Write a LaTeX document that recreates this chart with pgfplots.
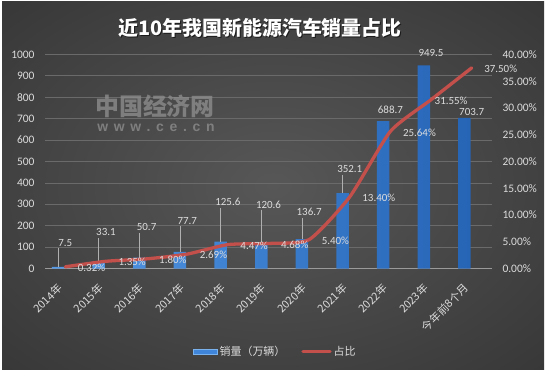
\documentclass[border=0pt]{standalone}
\usepackage{pgfplots}
\pgfplotsset{compat=1.18}
\usepackage{pgfplotstable}
\usepackage{fontspec}
\setmainfont{Carlito}
\newfontfamily\cjk{Noto Sans CJK SC}
\newfontfamily\wmfont{Liberation Sans}
\definecolor{bgin}{HTML}{575757}
\definecolor{bgout}{HTML}{2B2B2B}
\definecolor{gridc}{HTML}{6A6A6A}
\definecolor{zeroc}{HTML}{9A9A9A}
\definecolor{txt}{HTML}{DCDCDC}
\definecolor{barL}{HTML}{5298E6}
\definecolor{barM}{HTML}{3F86DA}
\definecolor{barR}{HTML}{2664B6}
\definecolor{barE}{HTML}{7AB2EE}
\definecolor{lineR}{HTML}{C4504C}
\definecolor{leader}{HTML}{B0B0B0}
\definecolor{wm}{HTML}{8C8C8C}
\pgfdeclareradialshading{bgshade}{\pgfpoint{0bp}{0bp}}{color(0bp)=(bgin); color(50bp)=(bgout); color(72bp)=(bgout)}

\pgfplotstableread{
x  y      err    yoff  p      px
0  7.5    86.4   20.5  0.32   11
1  33.1   109.8  25.5  1.35   11
2  50.7   114.5  26.5  1.80   11
3  77.7   119.2  27.5  2.69   11
4  125.6  156.5  35.5  4.47   11
5  120.6  151.9  34.5  4.68   11
6  136.7  100.5  23.5  5.40   11
7  352.1  86.4   20.5  13.40  11
8  688.7  0      7.5   25.64  11
9  949.5  0      8.5   31.55  2
10 703.7  0      2.5   37.50  11
}\data

\begin{document}
\begin{tikzpicture}
\begin{scope}[x=1bp,y=1bp]
\path[use as bounding box] (0,0) rectangle (550,374);
\fill[white] (0,0) rectangle (550,374);
\shade[shading=bgshade] (2,5) rectangle (544,372);
% title
\node[text=black, opacity=0.6, font=\cjk\bfseries\fontsize{20}{24}\selectfont] at (261,345.5) {近10年我国新能源汽车销量占比};
\node[text=white, font=\cjk\bfseries\fontsize{20}{24}\selectfont] at (260,346.5) {近10年我国新能源汽车销量占比};
\end{scope}

\begin{axis}[
  at={(45bp,105.5bp)}, anchor=south west, scale only axis,
  width=447bp, height=214bp,
  xmin=-0.5, xmax=10.5, ymin=0, ymax=1000,
  xtick={0,...,10},
  xticklabels={2014年,2015年,2016年,2017年,2018年,2019年,2020年,2021年,2022年,2023年,今年前8个月},
  ytick={0,100,...,1000},
  ymajorgrids, grid style={gridc, line width=0.8bp},
  axis x line*=bottom, axis y line*=left,
  x axis line style={zeroc, line width=0.9bp, -},
  y axis line style={draw=none},
  major tick length=0pt,
  /pgf/number format/assume math mode=true,
  /pgf/number format/1000 sep={},
  tick label style={text=txt, font=\fontsize{11.5}{13}\selectfont},
  xticklabel style={xshift=-2.5bp, yshift=-15bp, rotate=45, anchor=east, font=\cjk\fontsize{11}{12}\selectfont},
  yticklabel style={xshift=-7bp},
  ybar, bar width=12.5bp,
  clip=false,
]
\addplot[draw=none, left color=barL, middle color=barM, right color=barR,
  error bars/.cd, y dir=plus, y explicit,
  error mark=none, error bar style={leader, line width=0.6bp},
] table[x=x,y=y,y error=err]{\data};
\addplot[draw=none, fill=none, bar shift=0pt,
  visualization depends on={\thisrow{yoff} \as \yoff},
  nodes near coords={\pgfmathprintnumber[fixed,fixed zerofill,precision=1]{\pgfplotspointmeta}},
  every node near coord/.append style={anchor=south, inner sep=0pt, yshift=\yoff, text=txt, font=\fontsize{11}{13}\selectfont},
] table[x=x,y=y]{\data};
\end{axis}

\begin{axis}[
  at={(45bp,105.5bp)}, anchor=south west, scale only axis,
  width=447bp, height=214bp,
  xmin=-0.5, xmax=10.5, ymin=0, ymax=40,
  axis x line=none, axis y line*=right,
  y axis line style={draw=none},
  ytick={0,5,...,40},
  major tick length=0pt,
  /pgf/number format/assume math mode=true,
  yticklabel={\pgfmathprintnumber[fixed,fixed zerofill,precision=2]{\tick}\%},
  yticklabel style={anchor=west, xshift=7bp, text=txt, font=\fontsize{11.5}{13}\selectfont},
  clip=false,
  legend style={at={(0.515,-0.388)}, anchor=center, draw=none, fill=none,
    text=txt, font=\cjk\fontsize{11}{13}\selectfont, legend columns=-1,
    /tikz/every even column/.append style={column sep=14bp}},
]
\addlegendimage{legend image code/.code={\draw[fill=barM, draw=barE, line width=0.8bp] (0bp,-2.5bp) rectangle (24bp,2.5bp);}}
\addlegendentry{销量（万辆）}
\addplot[lineR, line width=3.3bp, smooth, tension=0.35, line cap=round, line join=round,
  legend image code/.code={\draw[lineR, line width=3.3bp] (0bp,0bp) -- (27bp,0bp);},
  visualization depends on={\thisrow{px} \as \px},
  nodes near coords={\pgfmathprintnumber[fixed,fixed zerofill,precision=2]{\pgfplotspointmeta}\%},
  every node near coord/.append style={anchor=west, inner sep=0pt, xshift=\px, yshift=-1bp, text=txt, font=\fontsize{11}{13}\selectfont},
] table[x=x,y=p]{\data};
\addlegendentry{占比}
\end{axis}

\begin{scope}[x=1bp,y=1bp]
% watermark
\node[text=wm, opacity=0.8, font=\cjk\bfseries\fontsize{24}{26}\selectfont, inner sep=0] at (155,268) {中国经济网};
\node[text=wm, opacity=0.8, font=\wmfont\bfseries\fontsize{14}{16}\selectfont, inner sep=0] at (156,246) {\addfontfeatures{LetterSpace=41}www.ce.cn};
\end{scope}
\end{tikzpicture}
\end{document}
